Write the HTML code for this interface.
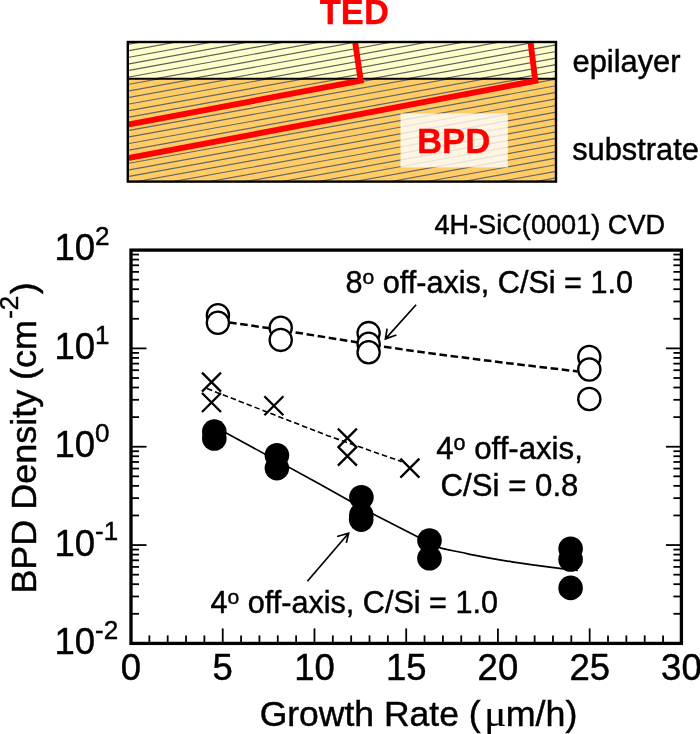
<!DOCTYPE html>
<html><head><meta charset="utf-8"><title>BPD density vs growth rate</title>
<style>html,body{margin:0;padding:0;background:#fff}svg{display:block}text{font-family:"Liberation Sans",Arial,sans-serif;fill:#000;stroke:#000;stroke-width:0.45px}text.r{stroke:#ff0000;stroke-width:0.3px}</style></head><body>
<svg width="700" height="734" viewBox="0 0 700 734">
<rect width="700" height="734" fill="#fff"/>
<defs><clipPath id="cEpi"><rect x="127.8" y="42.0" width="428.2" height="36.8"/></clipPath>
<clipPath id="cSub"><rect x="127.8" y="78.8" width="428.2" height="102.8"/></clipPath></defs>
<rect x="127.8" y="42.0" width="428.2" height="36.8" fill="#ffffcc"/>
<rect x="127.8" y="78.8" width="428.2" height="102.8" fill="#ffcc66"/>
<g clip-path="url(#cEpi)" stroke="#5e5e5e" stroke-width="1.15">
<line x1="127.8" y1="-80.70" x2="556.0" y2="-159.06"/>
<line x1="127.8" y1="-74.12" x2="556.0" y2="-152.48"/>
<line x1="127.8" y1="-67.54" x2="556.0" y2="-145.90"/>
<line x1="127.8" y1="-60.96" x2="556.0" y2="-139.32"/>
<line x1="127.8" y1="-54.38" x2="556.0" y2="-132.74"/>
<line x1="127.8" y1="-47.80" x2="556.0" y2="-126.16"/>
<line x1="127.8" y1="-41.22" x2="556.0" y2="-119.58"/>
<line x1="127.8" y1="-34.64" x2="556.0" y2="-113.00"/>
<line x1="127.8" y1="-28.06" x2="556.0" y2="-106.42"/>
<line x1="127.8" y1="-21.48" x2="556.0" y2="-99.84"/>
<line x1="127.8" y1="-14.90" x2="556.0" y2="-93.26"/>
<line x1="127.8" y1="-8.32" x2="556.0" y2="-86.68"/>
<line x1="127.8" y1="-1.74" x2="556.0" y2="-80.10"/>
<line x1="127.8" y1="4.84" x2="556.0" y2="-73.52"/>
<line x1="127.8" y1="11.42" x2="556.0" y2="-66.94"/>
<line x1="127.8" y1="18.00" x2="556.0" y2="-60.36"/>
<line x1="127.8" y1="24.58" x2="556.0" y2="-53.78"/>
<line x1="127.8" y1="31.16" x2="556.0" y2="-47.20"/>
<line x1="127.8" y1="37.74" x2="556.0" y2="-40.62"/>
<line x1="127.8" y1="44.32" x2="556.0" y2="-34.04"/>
<line x1="127.8" y1="50.90" x2="556.0" y2="-27.46"/>
<line x1="127.8" y1="57.48" x2="556.0" y2="-20.88"/>
<line x1="127.8" y1="64.06" x2="556.0" y2="-14.30"/>
<line x1="127.8" y1="70.64" x2="556.0" y2="-7.72"/>
<line x1="127.8" y1="77.22" x2="556.0" y2="-1.14"/>
<line x1="127.8" y1="83.80" x2="556.0" y2="5.44"/>
<line x1="127.8" y1="90.38" x2="556.0" y2="12.02"/>
<line x1="127.8" y1="96.96" x2="556.0" y2="18.60"/>
<line x1="127.8" y1="103.54" x2="556.0" y2="25.18"/>
<line x1="127.8" y1="110.12" x2="556.0" y2="31.76"/>
<line x1="127.8" y1="116.70" x2="556.0" y2="38.34"/>
<line x1="127.8" y1="123.28" x2="556.0" y2="44.92"/>
<line x1="127.8" y1="129.86" x2="556.0" y2="51.50"/>
<line x1="127.8" y1="136.44" x2="556.0" y2="58.08"/>
<line x1="127.8" y1="143.02" x2="556.0" y2="64.66"/>
<line x1="127.8" y1="149.60" x2="556.0" y2="71.24"/>
<line x1="127.8" y1="156.18" x2="556.0" y2="77.82"/>
<line x1="127.8" y1="162.76" x2="556.0" y2="84.40"/>
</g>
<g clip-path="url(#cSub)" stroke="#666" stroke-width="1.15">
<line x1="127.8" y1="-7.60" x2="556.0" y2="-85.32"/>
<line x1="127.8" y1="-1.02" x2="556.0" y2="-78.74"/>
<line x1="127.8" y1="5.56" x2="556.0" y2="-72.16"/>
<line x1="127.8" y1="12.14" x2="556.0" y2="-65.58"/>
<line x1="127.8" y1="18.72" x2="556.0" y2="-59.00"/>
<line x1="127.8" y1="25.30" x2="556.0" y2="-52.42"/>
<line x1="127.8" y1="31.88" x2="556.0" y2="-45.84"/>
<line x1="127.8" y1="38.46" x2="556.0" y2="-39.26"/>
<line x1="127.8" y1="45.04" x2="556.0" y2="-32.68"/>
<line x1="127.8" y1="51.62" x2="556.0" y2="-26.10"/>
<line x1="127.8" y1="58.20" x2="556.0" y2="-19.52"/>
<line x1="127.8" y1="64.78" x2="556.0" y2="-12.94"/>
<line x1="127.8" y1="71.36" x2="556.0" y2="-6.36"/>
<line x1="127.8" y1="77.94" x2="556.0" y2="0.22"/>
<line x1="127.8" y1="84.52" x2="556.0" y2="6.80"/>
<line x1="127.8" y1="91.10" x2="556.0" y2="13.38"/>
<line x1="127.8" y1="97.68" x2="556.0" y2="19.96"/>
<line x1="127.8" y1="104.26" x2="556.0" y2="26.54"/>
<line x1="127.8" y1="110.84" x2="556.0" y2="33.12"/>
<line x1="127.8" y1="117.42" x2="556.0" y2="39.70"/>
<line x1="127.8" y1="124.00" x2="556.0" y2="46.28"/>
<line x1="127.8" y1="130.58" x2="556.0" y2="52.86"/>
<line x1="127.8" y1="137.16" x2="556.0" y2="59.44"/>
<line x1="127.8" y1="143.74" x2="556.0" y2="66.02"/>
<line x1="127.8" y1="150.32" x2="556.0" y2="72.60"/>
<line x1="127.8" y1="156.90" x2="556.0" y2="79.18"/>
<line x1="127.8" y1="163.48" x2="556.0" y2="85.76"/>
<line x1="127.8" y1="170.06" x2="556.0" y2="92.34"/>
<line x1="127.8" y1="176.64" x2="556.0" y2="98.92"/>
<line x1="127.8" y1="183.22" x2="556.0" y2="105.50"/>
<line x1="127.8" y1="189.80" x2="556.0" y2="112.08"/>
<line x1="127.8" y1="196.38" x2="556.0" y2="118.66"/>
<line x1="127.8" y1="202.96" x2="556.0" y2="125.24"/>
<line x1="127.8" y1="209.54" x2="556.0" y2="131.82"/>
<line x1="127.8" y1="216.12" x2="556.0" y2="138.40"/>
<line x1="127.8" y1="222.70" x2="556.0" y2="144.98"/>
<line x1="127.8" y1="229.28" x2="556.0" y2="151.56"/>
<line x1="127.8" y1="235.86" x2="556.0" y2="158.14"/>
<line x1="127.8" y1="242.44" x2="556.0" y2="164.72"/>
<line x1="127.8" y1="249.02" x2="556.0" y2="171.30"/>
<line x1="127.8" y1="255.60" x2="556.0" y2="177.88"/>
<line x1="127.8" y1="262.18" x2="556.0" y2="184.46"/>
<line x1="127.8" y1="268.76" x2="556.0" y2="191.04"/>
</g>
<line x1="127.8" y1="78.8" x2="556.0" y2="78.8" stroke="#000" stroke-width="2"/>
<g fill="none" stroke="#ff0000" stroke-width="5.9" stroke-linejoin="miter">
<polyline points="127.8,124.6 360.7,80.6 355.2,42.5"/>
<polyline points="127.8,158.2 535.3,80.9 530.6,42.5"/>
</g>
<rect x="400.5" y="113.4" width="107.3" height="54" fill="#fff" fill-opacity="0.8"/>
<text x="453.7" y="152.7" font-size="34.8" font-weight="bold" text-anchor="middle" class="r" style="fill:#ff0000">BPD</text>
<rect x="127.8" y="42.0" width="428.2" height="139.6" fill="none" stroke="#000" stroke-width="2.4"/>
<text x="354.3" y="24.1" font-size="34.6" font-weight="bold" text-anchor="middle" class="r" style="fill:#ff0000">TED</text>
<text x="572.6" y="72.2" font-size="30.8">epilayer</text>
<text x="572.2" y="160.0" font-size="30.8">substrate</text>
<text x="434.4" y="233.6" font-size="27.15">4H-SiC(0001) CVD</text>
<g stroke="#000" stroke-width="1.8" fill="none">
<line x1="131.0" y1="348.39" x2="146.5" y2="348.39"/>
<line x1="681.4" y1="348.39" x2="665.9" y2="348.39"/>
<line x1="131.0" y1="318.78" x2="139.0" y2="318.78"/>
<line x1="681.4" y1="318.78" x2="673.4" y2="318.78"/>
<line x1="131.0" y1="301.47" x2="139.0" y2="301.47"/>
<line x1="681.4" y1="301.47" x2="673.4" y2="301.47"/>
<line x1="131.0" y1="289.18" x2="139.0" y2="289.18"/>
<line x1="681.4" y1="289.18" x2="673.4" y2="289.18"/>
<line x1="131.0" y1="279.65" x2="139.0" y2="279.65"/>
<line x1="681.4" y1="279.65" x2="673.4" y2="279.65"/>
<line x1="131.0" y1="271.87" x2="139.0" y2="271.87"/>
<line x1="681.4" y1="271.87" x2="673.4" y2="271.87"/>
<line x1="131.0" y1="265.28" x2="139.0" y2="265.28"/>
<line x1="681.4" y1="265.28" x2="673.4" y2="265.28"/>
<line x1="131.0" y1="259.58" x2="139.0" y2="259.58"/>
<line x1="681.4" y1="259.58" x2="673.4" y2="259.58"/>
<line x1="131.0" y1="254.55" x2="139.0" y2="254.55"/>
<line x1="681.4" y1="254.55" x2="673.4" y2="254.55"/>
<line x1="131.0" y1="446.73" x2="146.5" y2="446.73"/>
<line x1="681.4" y1="446.73" x2="665.9" y2="446.73"/>
<line x1="131.0" y1="417.12" x2="139.0" y2="417.12"/>
<line x1="681.4" y1="417.12" x2="673.4" y2="417.12"/>
<line x1="131.0" y1="399.81" x2="139.0" y2="399.81"/>
<line x1="681.4" y1="399.81" x2="673.4" y2="399.81"/>
<line x1="131.0" y1="387.52" x2="139.0" y2="387.52"/>
<line x1="681.4" y1="387.52" x2="673.4" y2="387.52"/>
<line x1="131.0" y1="377.99" x2="139.0" y2="377.99"/>
<line x1="681.4" y1="377.99" x2="673.4" y2="377.99"/>
<line x1="131.0" y1="370.20" x2="139.0" y2="370.20"/>
<line x1="681.4" y1="370.20" x2="673.4" y2="370.20"/>
<line x1="131.0" y1="363.62" x2="139.0" y2="363.62"/>
<line x1="681.4" y1="363.62" x2="673.4" y2="363.62"/>
<line x1="131.0" y1="357.92" x2="139.0" y2="357.92"/>
<line x1="681.4" y1="357.92" x2="673.4" y2="357.92"/>
<line x1="131.0" y1="352.89" x2="139.0" y2="352.89"/>
<line x1="681.4" y1="352.89" x2="673.4" y2="352.89"/>
<line x1="131.0" y1="545.06" x2="146.5" y2="545.06"/>
<line x1="681.4" y1="545.06" x2="665.9" y2="545.06"/>
<line x1="131.0" y1="515.46" x2="139.0" y2="515.46"/>
<line x1="681.4" y1="515.46" x2="673.4" y2="515.46"/>
<line x1="131.0" y1="498.14" x2="139.0" y2="498.14"/>
<line x1="681.4" y1="498.14" x2="673.4" y2="498.14"/>
<line x1="131.0" y1="485.86" x2="139.0" y2="485.86"/>
<line x1="681.4" y1="485.86" x2="673.4" y2="485.86"/>
<line x1="131.0" y1="476.33" x2="139.0" y2="476.33"/>
<line x1="681.4" y1="476.33" x2="673.4" y2="476.33"/>
<line x1="131.0" y1="468.54" x2="139.0" y2="468.54"/>
<line x1="681.4" y1="468.54" x2="673.4" y2="468.54"/>
<line x1="131.0" y1="461.96" x2="139.0" y2="461.96"/>
<line x1="681.4" y1="461.96" x2="673.4" y2="461.96"/>
<line x1="131.0" y1="456.25" x2="139.0" y2="456.25"/>
<line x1="681.4" y1="456.25" x2="673.4" y2="456.25"/>
<line x1="131.0" y1="451.22" x2="139.0" y2="451.22"/>
<line x1="681.4" y1="451.22" x2="673.4" y2="451.22"/>
<line x1="131.0" y1="613.80" x2="139.0" y2="613.80"/>
<line x1="681.4" y1="613.80" x2="673.4" y2="613.80"/>
<line x1="131.0" y1="596.48" x2="139.0" y2="596.48"/>
<line x1="681.4" y1="596.48" x2="673.4" y2="596.48"/>
<line x1="131.0" y1="584.19" x2="139.0" y2="584.19"/>
<line x1="681.4" y1="584.19" x2="673.4" y2="584.19"/>
<line x1="131.0" y1="574.67" x2="139.0" y2="574.67"/>
<line x1="681.4" y1="574.67" x2="673.4" y2="574.67"/>
<line x1="131.0" y1="566.88" x2="139.0" y2="566.88"/>
<line x1="681.4" y1="566.88" x2="673.4" y2="566.88"/>
<line x1="131.0" y1="560.30" x2="139.0" y2="560.30"/>
<line x1="681.4" y1="560.30" x2="673.4" y2="560.30"/>
<line x1="131.0" y1="554.59" x2="139.0" y2="554.59"/>
<line x1="681.4" y1="554.59" x2="673.4" y2="554.59"/>
<line x1="131.0" y1="549.56" x2="139.0" y2="549.56"/>
<line x1="681.4" y1="549.56" x2="673.4" y2="549.56"/>
<line x1="149.35" y1="643.4" x2="149.35" y2="635.4"/>
<line x1="167.69" y1="643.4" x2="167.69" y2="635.4"/>
<line x1="186.04" y1="643.4" x2="186.04" y2="635.4"/>
<line x1="204.39" y1="643.4" x2="204.39" y2="635.4"/>
<line x1="222.73" y1="643.4" x2="222.73" y2="628.4"/>
<line x1="241.08" y1="643.4" x2="241.08" y2="635.4"/>
<line x1="259.43" y1="643.4" x2="259.43" y2="635.4"/>
<line x1="277.77" y1="643.4" x2="277.77" y2="635.4"/>
<line x1="296.12" y1="643.4" x2="296.12" y2="635.4"/>
<line x1="314.47" y1="643.4" x2="314.47" y2="628.4"/>
<line x1="332.81" y1="643.4" x2="332.81" y2="635.4"/>
<line x1="351.16" y1="643.4" x2="351.16" y2="635.4"/>
<line x1="369.51" y1="643.4" x2="369.51" y2="635.4"/>
<line x1="387.85" y1="643.4" x2="387.85" y2="635.4"/>
<line x1="406.20" y1="643.4" x2="406.20" y2="628.4"/>
<line x1="424.55" y1="643.4" x2="424.55" y2="635.4"/>
<line x1="442.89" y1="643.4" x2="442.89" y2="635.4"/>
<line x1="461.24" y1="643.4" x2="461.24" y2="635.4"/>
<line x1="479.59" y1="643.4" x2="479.59" y2="635.4"/>
<line x1="497.93" y1="643.4" x2="497.93" y2="628.4"/>
<line x1="516.28" y1="643.4" x2="516.28" y2="635.4"/>
<line x1="534.63" y1="643.4" x2="534.63" y2="635.4"/>
<line x1="552.97" y1="643.4" x2="552.97" y2="635.4"/>
<line x1="571.32" y1="643.4" x2="571.32" y2="635.4"/>
<line x1="589.67" y1="643.4" x2="589.67" y2="628.4"/>
<line x1="608.01" y1="643.4" x2="608.01" y2="635.4"/>
<line x1="626.36" y1="643.4" x2="626.36" y2="635.4"/>
<line x1="644.71" y1="643.4" x2="644.71" y2="635.4"/>
<line x1="663.05" y1="643.4" x2="663.05" y2="635.4"/>
</g>
<path d="M218,320.9 L233,323 L268,328 L293,332 L330,337.9 L358,342.4 L386,347 L430,353.3 L500,362.2 L577.4,371.4" fill="none" stroke="#000" stroke-width="2.5" stroke-dasharray="7.6 3.6"/>
<path d="M207,388.6 L327.8,435.7 L401.8,461.7" fill="none" stroke="#000" stroke-width="1.6" stroke-dasharray="5.5 3"/>
<path d="M214.3,428 L226.7,433.2 L320,484.3 L349.4,500.8 L373.6,514.3 L417.5,536.8 C428,542 434,545.6 441,548.1 C452,551 458,551.4 470,554.4 C490,558.5 500,560 513.6,562.1 C540,566 560,568.5 577.9,570.3" fill="none" stroke="#000" stroke-width="1.7"/>
<g fill="#fff" stroke="#000" stroke-width="2.3">
<circle cx="217.9" cy="315.3" r="11.1"/>
<circle cx="217.9" cy="322.8" r="11.1"/>
<circle cx="280.7" cy="327.7" r="11.1"/>
<circle cx="280.7" cy="339.9" r="11.1"/>
<circle cx="368.6" cy="333.1" r="11.1"/>
<circle cx="368.6" cy="343.8" r="11.1"/>
<circle cx="368.6" cy="352.3" r="11.1"/>
<circle cx="589.3" cy="357.0" r="11.1"/>
<circle cx="589.3" cy="369.5" r="11.1"/>
<circle cx="589.3" cy="399.0" r="11.1"/>
</g>
<g stroke="#000" stroke-width="2.3" fill="none">
<path d="M202.0,372.6 L221.0,391.6 M202.0,391.6 L221.0,372.6"/>
<path d="M202.0,393.0 L221.0,412.0 M202.0,412.0 L221.0,393.0"/>
<path d="M264.4,396.2 L283.4,415.2 M264.4,415.2 L283.4,396.2"/>
<path d="M337.9,428.6 L356.9,447.6 M337.9,447.6 L356.9,428.6"/>
<path d="M337.9,446.6 L356.9,465.6 M337.9,465.6 L356.9,446.6"/>
<path d="M400.4,458.6 L419.4,477.6 M400.4,477.6 L419.4,458.6"/>
</g>
<g fill="#000">
<circle cx="214.3" cy="431.6" r="12.3"/>
<circle cx="214.3" cy="438.5" r="12.3"/>
<circle cx="276.9" cy="455.2" r="12.3"/>
<circle cx="276.9" cy="468.1" r="12.3"/>
<circle cx="361.4" cy="497.2" r="12.3"/>
<circle cx="361.3" cy="515.0" r="12.3"/>
<circle cx="361.2" cy="519.6" r="12.3"/>
<circle cx="429.5" cy="540.5" r="12.3"/>
<circle cx="429.5" cy="558.3" r="12.3"/>
<circle cx="570.6" cy="548.7" r="12.3"/>
<circle cx="570.6" cy="559.5" r="12.3"/>
<circle cx="570.6" cy="587.9" r="12.3"/>
</g>
<g stroke="#000" stroke-width="1.7" fill="none" stroke-linecap="butt">
<path d="M416.1,304.7 L385.4,338.9 M387.1,328.6 L385.4,338.9 L396.4,335"/>
<path d="M307.4,581.3 L348.6,533.3 M337.1,536.5 L348.6,533.3 L346.3,542.9"/>
</g>
<rect x="131.0" y="250.1" width="550.4" height="393.3" fill="none" stroke="#000" stroke-width="3.3"/>
<text x="131.0" y="680" font-size="36.5" text-anchor="middle">0</text>
<text x="222.7" y="680" font-size="36.5" text-anchor="middle">5</text>
<text x="314.5" y="680" font-size="36.5" text-anchor="middle">10</text>
<text x="406.2" y="680" font-size="36.5" text-anchor="middle">15</text>
<text x="497.9" y="680" font-size="36.5" text-anchor="middle">20</text>
<text x="589.7" y="680" font-size="36.5" text-anchor="middle">25</text>
<text x="681.4" y="680" font-size="36.5" text-anchor="middle">30</text>
<text x="54.5" y="260.4" font-size="36.5">10<tspan font-size="26" dy="-15.3">2</tspan></text>
<text x="54.5" y="358.8" font-size="36.5">10<tspan font-size="26" dy="-15.3">1</tspan></text>
<text x="54.5" y="457.1" font-size="36.5">10<tspan font-size="26" dy="-15.3">0</tspan></text>
<text x="54.5" y="555.5" font-size="36.5">10<tspan font-size="26" dy="-15.3">-1</tspan></text>
<text x="54.5" y="653.8" font-size="36.5">10<tspan font-size="26" dy="-15.3">-2</tspan></text>
<text x="259.7" y="725.9" font-size="35.5">Growth Rate (</text>
<text transform="translate(484.3,725.9) scale(1.16,1)" font-size="35.5" style="font-family:'Liberation Serif',serif;stroke-width:0.2px">μ</text>
<text x="505.8" y="725.9" font-size="35.8">m/h)</text>
<text transform="translate(36.2,593.6) rotate(-90)" font-size="35.95">BPD Density (cm<tspan font-size="26" dy="-18" dx="1.2">-2</tspan><tspan dy="18" dx="1.4">)</tspan></text>
<text x="345.5" y="292.9" font-size="30.6">8<tspan font-size="21.1" dy="-8.5">o</tspan><tspan dy="8.5"> off-axis, C/Si = 1.0</tspan></text>
<text x="436.2" y="458.6" font-size="31.2">4<tspan font-size="21.5" dy="-8.5">o</tspan><tspan dy="8.5"> off-axis,</tspan></text>
<text x="440.6" y="495.5" font-size="31.2">C/Si = 0.8</text>
<text x="210.5" y="612.8" font-size="30.6">4<tspan font-size="21.1" dy="-8.5">o</tspan><tspan dy="8.5"> off-axis, C/Si = 1.0</tspan></text>
</svg></body></html>
